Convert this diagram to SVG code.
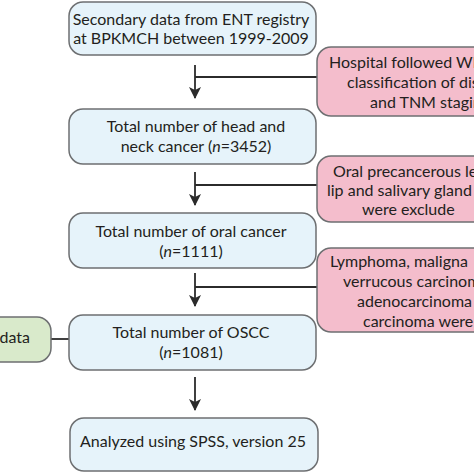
<svg xmlns="http://www.w3.org/2000/svg" width="474" height="474" viewBox="0 0 474 474">
<defs>
<style>
.blue{fill:#e6f3fa;stroke:#6d6f71;stroke-width:1.5}
.pink{fill:#f4bdcc;stroke:#6d6f71;stroke-width:1.5}
.green{fill:#d9eacb;stroke:#6d6f71;stroke-width:1.5}
text{font-family:Lato,"Liberation Sans",sans-serif;font-size:16px;fill:#231f20}
.c{text-anchor:middle}
.ln{stroke:#2b2b2b;stroke-width:1.8;fill:none}
</style>
<marker id="ah" viewBox="0 0 12 12" refX="11" refY="6" markerWidth="12" markerHeight="12" markerUnits="userSpaceOnUse" orient="auto">
<path d="M0,0 L12,6 L0,12 L3,6 Z" fill="#2b2b2b"/>
</marker>
</defs>
<rect width="474" height="474" fill="#ffffff"/>
<g id="connectors">
<path class="ln" d="M195,65 V98" marker-end="url(#ah)"/>
<path class="ln" d="M195,77 H317"/>
<path class="ln" d="M195,172 V205" marker-end="url(#ah)"/>
<path class="ln" d="M195,185 H317"/>
<path class="ln" d="M195,273 V306" marker-end="url(#ah)"/>
<path class="ln" d="M195,287 H317"/>
<path class="ln" d="M51,339 H69"/>
<path class="ln" d="M195,377 V410" marker-end="url(#ah)"/>
</g>
<g id="n1">
<rect class="blue" x="69" y="2" width="247" height="53" rx="14"/>
<text class="c" x="191" y="25">Secondary data from ENT registry</text>
<text class="c" x="191" y="44">at BPKMCH between 1999-2009</text>
</g>
<g id="e1">
<rect class="pink" x="317" y="47" width="180" height="69" rx="14"/>
<text x="329" y="68">Hospital followed WH</text>
<text x="347" y="88">classification of dis</text>
<text x="370" y="108">and TNM stagin</text>
</g>
<g id="n2">
<rect class="blue" x="69" y="109" width="247" height="55" rx="14"/>
<text class="c" x="196" y="132">Total number of head and</text>
<text class="c" x="196" y="152">neck cancer (<tspan font-style="italic">n</tspan>=3452)</text>
</g>
<g id="e2">
<rect class="pink" x="317" y="156" width="180" height="66" rx="14"/>
<text x="333" y="177">Oral precancerous le</text>
<text x="327" y="196">lip and salivary gland</text>
<text x="362" y="215">were exclude</text>
</g>
<g id="n3">
<rect class="blue" x="69" y="213" width="247" height="55" rx="14"/>
<text class="c" x="191" y="237">Total number of oral cancer</text>
<text class="c" x="191" y="257">(<tspan font-style="italic">n</tspan>=1111)</text>
</g>
<g id="e3">
<rect class="pink" x="317" y="248" width="180" height="84" rx="14"/>
<text x="330" y="267">Lymphoma, maligna</text>
<text x="343" y="287">verrucous carcinom</text>
<text x="357" y="307">adenocarcinoma</text>
<text x="363" y="327">carcinoma were</text>
</g>
<g id="g1">
<rect class="green" x="-60" y="317" width="111" height="45" rx="14"/>
<text x="30" y="343" text-anchor="end">data</text>
</g>
<g id="n4">
<rect class="blue" x="69" y="315" width="247" height="55" rx="14"/>
<text class="c" x="191" y="338">Total number of OSCC</text>
<text class="c" x="191" y="358">(<tspan font-style="italic">n</tspan>=1081)</text>
</g>
<g id="n5">
<rect class="blue" x="70" y="418" width="248" height="53" rx="14"/>
<text class="c" x="193" y="447">Analyzed using SPSS, version 25</text>
</g>
</svg>
